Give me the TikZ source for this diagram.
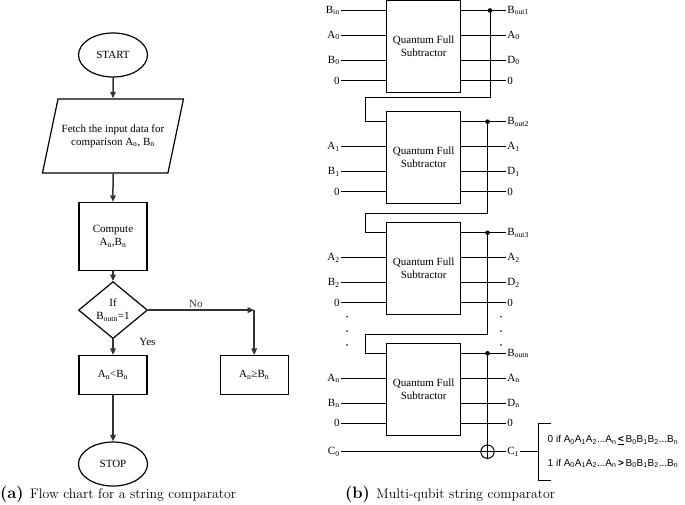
\documentclass[tikz,border=0pt]{standalone}
\usepackage{fontspec}
\newfontfamily\tnr{Liberation Serif}
\newfontfamily\arl{Liberation Sans}
\usepackage{tikz}
\usetikzlibrary{positioning}
\usetikzlibrary{arrows.meta}
\usetikzlibrary{shapes.geometric}
\newcommand{\ix}[1]{\textsubscript{#1}}

\begin{document}
\begin{tikzpicture}[x=1pt, y=-1pt, font=\tnr\fontsize{11}{13}\selectfont,
    term/.style={ellipse, draw, line width=1.2pt, minimum width=69pt, minimum height=44pt, inner sep=0pt},
    io/.style={trapezium, trapezium left angle=78, trapezium right angle=102, trapezium stretches body=true,
        draw, line width=1.2pt, minimum width=141pt, minimum height=74pt, inner xsep=0pt, inner ysep=25pt, align=center},
    proc/.style={rectangle, draw, line width=1.2pt, minimum width=68pt, inner sep=0pt, align=center},
    cond/.style={diamond, draw, line width=1.2pt, minimum width=69pt, minimum height=57pt, inner sep=0pt, align=center},
    arr/.style={-{Triangle[length=6.5pt,width=5.5pt]}, line width=1.5pt, black!80},
    qfs/.style={rectangle, draw, line width=1pt, minimum width=74pt, minimum height=92pt, align=center},
    wire/.style={line width=1pt},
    lbl/.style={inner sep=1.2pt},
    res/.style={font=\arl\fontsize{10}{12}\selectfont, inner sep=0pt},
    captxt/.style={anchor=base west, inner sep=0pt, font=\rmfamily}]
    \useasboundingbox (0,0) rectangle (685,505);

    % (a) flow chart
    \node (start) [term] at (113,55) {START};
    \node (fetch) [io, below=20.7pt of start] {Fetch the input data for\\comparison A\ix{n}, B\ix{n}};
    \node (comp) [proc, minimum height=68pt, below=28.3pt of fetch] {Compute\\A\ix{n},B\ix{n}};
    \node (test) [cond, below=10pt of comp] {If\\B\ix{outn}=1};
    \node (less) [proc, minimum height=39.3pt, below=15.7pt of test] {A\ix{n}<B\ix{n}};
    \node (geq) [proc, minimum height=39.3pt, right=72pt of less] {A\ix{n}≥B\ix{n}};
    \node (stop) [term, below=46pt of less] {STOP};
    \node (yes) at (147.5,341.5) {Yes};

    \draw[arr] (start) -- (fetch);
    \draw[arr] (fetch) -- (comp);
    \draw[arr] (comp) -- (test);
    \draw[arr] (test) -- (less);
    \draw[arr] (test.east) -- node (no) [pos=0.45, above, inner sep=2pt] {No} (test.east -| geq.north);
    \draw[arr] (test.east -| geq.north) -- (geq.north);
    \draw[arr] (less) -- (stop);

    % (b) string comparator
    \node (bin) [lbl, anchor=east] at (341,10.5) {B\ix{in}};
    \foreach \i/\t/\s/\o/\x in {0/0.5/0/1/490, 1/111.7/1/2/487.5, 2/222.7/2/3/487.5, 3/343.3/n/n/487.5} {
        \node (q\i) [qfs] at (423.7,\t+46) {Quantum Full\\Subtractor};
        \node (a\i) [lbl, anchor=east] at (341,\t+35) {A\ix{\s}};
        \node (b\i) [lbl, anchor=east] at (341,\t+60) {B\ix{\s}};
        \node (z\i) [lbl, anchor=east] at (341,\t+80) {0};
        \node (bo\i) [lbl, anchor=west] at (506,\t+10) {B\ix{out\o}};
        \node (ao\i) [lbl, anchor=west] at (506,\t+35) {A\ix{\s}};
        \node (d\i) [lbl, anchor=west] at (506,\t+60) {D\ix{\s}};
        \node (zo\i) [lbl, anchor=west] at (506,\t+80) {0};
        \foreach \n in {a,b,z} \draw[wire] (\n\i.east) -- (\n\i.east -| q\i.west);
        \foreach \n in {bo,ao,d,zo} \draw[wire] (\n\i.west -| q\i.east) -- (\n\i.west);
        \coordinate (v\i) at (\x,\t+10);
        \coordinate (w\i) at (365,\t+10);
        \fill (v\i) circle (2.3pt);
    }
    \draw[wire] (bin.east) -- (bin.east -| q0.west);
    % carry from one block to the next
    \foreach \i/\j/\u in {0/1/98, 1/2/213.3, 2/3/334}
        \draw[wire] (v\i) -- (v\i |- 0,\u) -| (w\j) -- (w\j -| q\j.west);
    \foreach \y in {316.7,331,345} {
        \fill (347,\y) circle (0.8pt);
        \fill (501,\y) circle (0.8pt);
    }

    % final carry onto C
    \node (c0) [lbl, anchor=east] at (341,451.7) {C\ix{0}};
    \node (c1) [lbl, anchor=west] at (506,451.7) {C\ix{1}};
    \node (xr) [circle, draw, line width=1pt, minimum size=13.4pt, inner sep=0pt] at (487.5,451.7) {};
    \draw[wire] (c0.east) -- (c1.west);
    \draw[wire] (v3) -- (xr.south);
    \coordinate (bk) at (538,451.7);
    \draw[wire] (551,423.3) -| (538,480) -- (551,480);
    \draw[wire] (c1.east) -- (bk);
    \node (r0) [res, anchor=west] at (547.5,440) {0 if A\ix{0}A\ix{1}A\ix{2}...A\ix{n}\,\underline{\textbf{<}}\,B\ix{0}B\ix{1}B\ix{2}...B\ix{n}};
    \node (r1) [res, anchor=west] at (547.5,463.5) {1 if A\ix{0}A\ix{1}A\ix{2}...A\ix{n}\,\textbf{>}\,B\ix{0}B\ix{1}B\ix{2}...B\ix{n}};

    % captions
    \node (capa) [captxt] at (0,498) {\fontsize{16.5}{18}\selectfont\bfseries (a)};
    \node (capta) [captxt] at ([xshift=6pt]capa.base east) {\fontsize{13.8}{16}\selectfont Flow chart for a string comparator};
    \node (capb) [captxt] at (345,498) {\fontsize{16.5}{18}\selectfont\bfseries (b)};
    \node (captb) [captxt] at ([xshift=6pt]capb.base east) {\fontsize{13.8}{16}\selectfont Multi-qubit string comparator};
\end{tikzpicture}
\end{document}
